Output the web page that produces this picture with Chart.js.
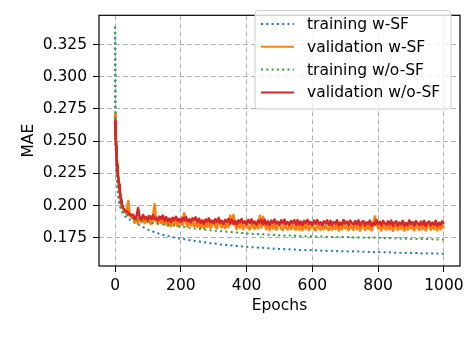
<!DOCTYPE html>
<html>
<head>
<meta charset="utf-8">
<script src="https://cdn.jsdelivr.net/npm/chart.js@4"></script>
<style>
  html, body { margin: 0; padding: 0; background: #fff; }
  #wrap { width: 474px; height: 345px; }
</style>
</head>
<body>
<div id="wrap"><canvas id="myChart" width="474" height="345"></canvas></div>
<script>
/* epochs for the (smooth) training curves */
const trainEpochs = [
  0, 1, 2, 3, 4, 5, 6, 7, 8, 10, 12, 14, 16, 18, 20, 25, 30, 35, 40, 45, 50,
  60, 70, 80, 90, 100, 110, 120, 130, 140, 150, 160, 170, 180, 190, 200,
  210, 220, 230, 240, 250, 260, 270, 280, 290, 300,
  310, 320, 330, 340, 350, 360, 370, 380, 390, 400,
  410, 420, 430, 440, 450, 460, 470, 480, 490, 500,
  510, 520, 530, 540, 550, 560, 570, 580, 590, 600,
  610, 620, 630, 640, 650, 660, 670, 680, 690, 700,
  710, 720, 730, 740, 750, 760, 770, 780, 790, 800,
  810, 820, 830, 840, 850, 860, 870, 880, 890, 900,
  910, 920, 930, 940, 950, 960, 970, 980, 990, 1000,
];

/* epochs for the (noisy) validation curves */
const valEpochs = [
  0, 1, 2, 3, 4, 5, 6, 7, 8, 10, 12, 14, 16, 18, 20, 25, 30, 35, 40, 45, 50,
  55, 60, 65, 70, 75, 80, 85, 90, 95, 100, 105, 110, 115, 120, 125, 130, 135, 140, 145, 150,
  155, 160, 165, 170, 175, 180, 185, 190, 195, 200, 205, 210, 215, 220, 225, 230, 235, 240, 245, 250,
  255, 260, 265, 270, 275, 280, 285, 290, 295, 300, 305, 310, 315, 320, 325, 330, 335, 340, 345, 350,
  355, 360, 365, 370, 375, 380, 385, 390, 395, 400, 405, 410, 415, 420, 425, 430, 435, 440, 445, 450,
  455, 460, 465, 470, 475, 480, 485, 490, 495, 500, 505, 510, 515, 520, 525, 530, 535, 540, 545, 550,
  555, 560, 565, 570, 575, 580, 585, 590, 595, 600, 605, 610, 615, 620, 625, 630, 635, 640, 645, 650,
  655, 660, 665, 670, 675, 680, 685, 690, 695, 700, 705, 710, 715, 720, 725, 730, 735, 740, 745, 750,
  755, 760, 765, 770, 775, 780, 785, 790, 795, 800, 805, 810, 815, 820, 825, 830, 835, 840, 845, 850,
  855, 860, 865, 870, 875, 880, 885, 890, 895, 900, 905, 910, 915, 920, 925, 930, 935, 940, 945, 950,
  955, 960, 965, 970, 975, 980, 985, 990, 995, 1000,
];

const trainingWSF = [
  0.339, 0.262, 0.246, 0.236, 0.229, 0.223, 0.218, 0.2145, 0.2115, 0.2065, 0.203, 0.2005, 0.1985, 0.1968, 0.1955, 0.1932, 0.1916, 0.1905, 0.1897, 0.189, 0.1884,
  0.187, 0.1853, 0.184, 0.1826, 0.1813, 0.1803, 0.1794, 0.1785, 0.1776, 0.1769, 0.1764, 0.1757, 0.1752, 0.1747, 0.1742,
  0.1739, 0.1734, 0.173, 0.1726, 0.1722, 0.1719, 0.1714, 0.1712, 0.1707, 0.1705,
  0.1702, 0.1698, 0.1697, 0.1693, 0.1691, 0.1688, 0.1686, 0.1684, 0.1681, 0.168,
  0.1678, 0.1675, 0.1674, 0.1671, 0.1671, 0.1668, 0.1667, 0.1665, 0.1666, 0.1663,
  0.1662, 0.166, 0.166, 0.1657, 0.1658, 0.1655, 0.1655, 0.1653, 0.1654, 0.1651,
  0.1652, 0.1649, 0.165, 0.1648, 0.1647, 0.1648, 0.1645, 0.1646, 0.1644, 0.1645,
  0.1643, 0.1644, 0.1641, 0.1643, 0.164, 0.1641, 0.1639, 0.164, 0.1637, 0.1639,
  0.1636, 0.1637, 0.1635, 0.1636, 0.1633, 0.1635, 0.1632, 0.1633, 0.1631, 0.1632,
  0.163, 0.1631, 0.1628, 0.163, 0.1627, 0.1629, 0.1626, 0.1627, 0.1624, 0.1626,
];

const trainingWoSF = [
  0.339, 0.265, 0.248, 0.238, 0.231, 0.225, 0.22, 0.216, 0.213, 0.208, 0.204, 0.2015, 0.1995, 0.198, 0.197, 0.195, 0.1937, 0.1927, 0.1919, 0.1912, 0.1906,
  0.1897, 0.1889, 0.1882, 0.1876, 0.187, 0.1866, 0.1862, 0.1858, 0.1855, 0.1852, 0.1849, 0.1846, 0.1843, 0.184, 0.1836,
  0.1833, 0.1829, 0.1826, 0.1822, 0.1819, 0.1817, 0.1813, 0.1811, 0.1807, 0.1805,
  0.1803, 0.18, 0.1799, 0.1796, 0.1794, 0.1792, 0.179, 0.1787, 0.1786, 0.1783,
  0.1782, 0.1779, 0.1779, 0.1776, 0.1776, 0.1773, 0.1773, 0.177, 0.1771, 0.1768,
  0.1768, 0.1766, 0.1767, 0.1764, 0.1765, 0.1762, 0.1763, 0.1761, 0.1762, 0.1759,
  0.176, 0.1758, 0.1759, 0.1757, 0.1758, 0.1755, 0.1757, 0.1754, 0.1756, 0.1753,
  0.1755, 0.1752, 0.1754, 0.1751, 0.1752, 0.175, 0.1751, 0.1749, 0.1751, 0.1748,
  0.1749, 0.1746, 0.1748, 0.1745, 0.1746, 0.1744, 0.1745, 0.1742, 0.1744, 0.1741,
  0.1742, 0.174, 0.1741, 0.1739, 0.174, 0.1737, 0.1739, 0.1736, 0.1737, 0.1735,
];

const validationWSF = [
  0.271, 0.263, 0.256, 0.249, 0.243, 0.238, 0.233, 0.229, 0.226, 0.221, 0.216, 0.211, 0.207, 0.203, 0.2, 0.197, 0.195, 0.1935, 0.2035, 0.192, 0.191,
  0.1905, 0.1866, 0.1893, 0.1858, 0.191, 0.1874, 0.1899, 0.1862, 0.1888, 0.1915, 0.187, 0.1856, 0.19, 0.201, 0.1877, 0.1859, 0.1896, 0.1864, 0.1891, 0.1853,
  0.1885, 0.1843, 0.1872, 0.1838, 0.1889, 0.1851, 0.1878, 0.184, 0.1866, 0.1895, 0.1848, 0.194, 0.187, 0.1836, 0.1881, 0.1845, 0.1873, 0.1839, 0.1868, 0.1834,
  0.1871, 0.1829, 0.1858, 0.1824, 0.1875, 0.1837, 0.1864, 0.1826, 0.1852, 0.188, 0.1834, 0.1822, 0.1906, 0.1861, 0.183, 0.1867, 0.1825, 0.1855, 0.1833, 0.192,
  0.1862, 0.1926, 0.1851, 0.1818, 0.1868, 0.1829, 0.1857, 0.1817, 0.1845, 0.1872, 0.1826, 0.1814, 0.186, 0.1832, 0.182, 0.1866, 0.1823, 0.192, 0.183, 0.1912,
  0.1858, 0.1816, 0.1845, 0.1811, 0.1862, 0.1824, 0.1851, 0.1813, 0.1839, 0.1867, 0.1821, 0.1809, 0.1855, 0.1828, 0.1815, 0.186, 0.1818, 0.1848, 0.1826, 0.1812,
  0.1855, 0.1813, 0.1842, 0.1808, 0.1859, 0.1821, 0.1848, 0.181, 0.1836, 0.1864, 0.1818, 0.1806, 0.1852, 0.1825, 0.1812, 0.1857, 0.1815, 0.1845, 0.1823, 0.1809,
  0.1851, 0.1812, 0.1839, 0.182, 0.1856, 0.1806, 0.1845, 0.1815, 0.1861, 0.1824, 0.1834, 0.1808, 0.185, 0.1827, 0.1811, 0.1875, 0.1817, 0.1848, 0.1805, 0.1838,
  0.1853, 0.181, 0.1841, 0.1818, 0.1858, 0.1807, 0.1844, 0.1915, 0.186, 0.1822, 0.1836, 0.1806, 0.1852, 0.1826, 0.1813, 0.1855, 0.1816, 0.1847, 0.1804, 0.1839,
  0.185, 0.1811, 0.1842, 0.1819, 0.1857, 0.1805, 0.1846, 0.1814, 0.1862, 0.1823, 0.1835, 0.1807, 0.1851, 0.1828, 0.181, 0.1854, 0.1817, 0.1849, 0.1806, 0.184,
  0.1852, 0.1812, 0.1843, 0.1818, 0.1856, 0.1808, 0.1845, 0.1815, 0.185, 0.1826,
];

const validationWoSF = [
  0.266, 0.259, 0.252, 0.246, 0.24, 0.235, 0.231, 0.228, 0.225, 0.221, 0.216, 0.212, 0.208, 0.204, 0.201, 0.198, 0.196, 0.1955, 0.194, 0.193, 0.1925,
  0.1928, 0.1895, 0.1915, 0.198, 0.1902, 0.189, 0.1926, 0.1897, 0.191, 0.1886, 0.1918, 0.1896, 0.1924, 0.1892, 0.1905, 0.1884, 0.1914, 0.1898, 0.1921, 0.1885,
  0.191, 0.1878, 0.1898, 0.1872, 0.1905, 0.1888, 0.1912, 0.1881, 0.1895, 0.1874, 0.1906, 0.1884, 0.1911, 0.1879, 0.1893, 0.1871, 0.1901, 0.1886, 0.1908, 0.1873,
  0.1897, 0.1864, 0.1885, 0.1859, 0.1891, 0.1875, 0.19, 0.1868, 0.1882, 0.1862, 0.1893, 0.1871, 0.1898, 0.1866, 0.188, 0.1858, 0.1888, 0.1873, 0.1895, 0.186,
  0.1891, 0.1858, 0.1879, 0.1853, 0.1885, 0.1869, 0.1894, 0.1862, 0.1876, 0.1856, 0.1887, 0.1865, 0.1892, 0.186, 0.1874, 0.1852, 0.1882, 0.1867, 0.1889, 0.1854,
  0.1888, 0.1855, 0.1876, 0.185, 0.1882, 0.1866, 0.1891, 0.1859, 0.1873, 0.1853, 0.1884, 0.1862, 0.1889, 0.1857, 0.1871, 0.1849, 0.1879, 0.1864, 0.1886, 0.1851,
  0.1886, 0.1853, 0.1874, 0.1848, 0.188, 0.1864, 0.1889, 0.1857, 0.1871, 0.1851, 0.1882, 0.186, 0.1887, 0.1855, 0.1869, 0.1847, 0.1877, 0.1862, 0.1884, 0.1849,
  0.188, 0.1849, 0.1871, 0.1858, 0.1885, 0.1846, 0.1868, 0.1853, 0.1887, 0.186, 0.1875, 0.1848, 0.1882, 0.1866, 0.1851, 0.1879, 0.1856, 0.1884, 0.1845, 0.187,
  0.1878, 0.1847, 0.1869, 0.1856, 0.1883, 0.1844, 0.1866, 0.1851, 0.1885, 0.1858, 0.1873, 0.1846, 0.188, 0.1864, 0.1849, 0.1877, 0.1854, 0.1882, 0.1843, 0.1868,
  0.1876, 0.1845, 0.1867, 0.1854, 0.1881, 0.1842, 0.1864, 0.1849, 0.1883, 0.1856, 0.1871, 0.1844, 0.1878, 0.1862, 0.1847, 0.1875, 0.1852, 0.188, 0.1841, 0.1866,
  0.1875, 0.1846, 0.1868, 0.1853, 0.188, 0.1843, 0.1865, 0.185, 0.1877, 0.1858,
];

/* tick labels */
const xTicks = [0, 200, 400, 600, 800, 1000];
const yTicks = [0.175, 0.2, 0.225, 0.25, 0.275, 0.3, 0.325];

const seriesNames = ['training w-SF', 'validation w-SF', 'training w/o-SF', 'validation w/o-SF'];
const seriesColors = ['#1f77b4', '#ff7f0e', '#2ca02c', '#d62728'];
const seriesDash = [[2, 3.3], [], [2, 3.3], []];
const seriesWidth = [2, 2.6, 2, 2.6];
const seriesValues = [trainingWSF, validationWSF, trainingWoSF, validationWoSF];
const seriesEpochs = [trainEpochs, valEpochs, trainEpochs, valEpochs];

const FONT = 'DejaVu Sans';
const FONT_SIZE = 15.5;

const toPoints = (xs, values) => values.map((v, i) => ({ x: xs[i], y: v }));

/* frame + legend drawn on top of the plot */
const framePlugin = {
  id: 'frameLegend',
  afterDraw(chart) {
    const { ctx, chartArea: a } = chart;
    ctx.save();
    ctx.strokeStyle = '#000';
    ctx.lineWidth = 1.2;
    ctx.setLineDash([]);
    ctx.strokeRect(a.left, a.top, a.right - a.left, a.bottom - a.top);

    // legend box
    const bx = 255, by = 10.5, bw = 196, bh = 98.5, r = 3;
    ctx.beginPath();
    ctx.moveTo(bx + r, by);
    ctx.arcTo(bx + bw, by, bx + bw, by + bh, r);
    ctx.arcTo(bx + bw, by + bh, bx, by + bh, r);
    ctx.arcTo(bx, by + bh, bx, by, r);
    ctx.arcTo(bx, by, bx + bw, by, r);
    ctx.closePath();
    ctx.fillStyle = 'rgba(255,255,255,0.8)';
    ctx.fill();
    ctx.strokeStyle = '#cccccc';
    ctx.lineWidth = 1;
    ctx.stroke();

    ctx.font = FONT_SIZE + 'px "' + FONT + '"';
    ctx.textBaseline = 'middle';
    ctx.textAlign = 'left';
    seriesNames.forEach((name, i) => {
      const y = 24 + i * 22.8;
      ctx.beginPath();
      ctx.strokeStyle = seriesColors[i];
      ctx.lineWidth = 2;
      ctx.setLineDash(seriesDash[i]);
      ctx.moveTo(261, y);
      ctx.lineTo(294, y);
      ctx.stroke();
      ctx.fillStyle = '#000';
      ctx.fillText(name, 307, y + 1);
    });
    ctx.restore();
  },
};

const datasets = seriesNames.map((name, i) => ({
  label: name,
  data: toPoints(seriesEpochs[i], seriesValues[i]),
  borderColor: seriesColors[i],
  borderWidth: seriesWidth[i],
  borderDash: seriesDash[i],
  borderJoinStyle: 'round',
  pointRadius: 0,
  tension: 0,
  fill: false,
  order: 4 - i,
}));

const tickStyle = { color: '#000', font: { family: FONT, size: FONT_SIZE } };

const gridStyle = {
  color: '#b0b0b0',
  lineWidth: 1,
  tickLength: 6,
  tickColor: '#000',
  tickWidth: 1,
  tickBorderDash: [],
};

const config = {
  type: 'line',
  data: { datasets: datasets },
  options: {
    responsive: false,
    animation: false,
    events: [],
    layout: { padding: { left: 0, right: 14, top: 3, bottom: 30 } },
    plugins: { legend: { display: false }, tooltip: { enabled: false } },
    scales: {
      x: {
        type: 'linear',
        min: -49,
        max: 1049,
        afterBuildTicks: (scale) => {
          scale.ticks = xTicks.map((v) => ({ value: v }));
        },
        afterFit: (scale) => {
          scale.height = 49;
        },
        grid: gridStyle,
        border: { display: false, dash: [5, 3] },
        ticks: {
          ...tickStyle,
          padding: 5,
          maxRotation: 0,
          autoSkip: false,
          callback: (v) => String(v),
        },
        title: {
          display: true,
          text: 'Epochs',
          color: '#000',
          font: { family: FONT, size: FONT_SIZE },
          padding: { top: 0, bottom: 0 },
        },
      },
      y: {
        type: 'linear',
        min: 0.153,
        max: 0.3478,
        afterBuildTicks: (scale) => {
          scale.ticks = yTicks.map((v) => ({ value: v }));
        },
        afterFit: (scale) => {
          scale.width = 99;
        },
        grid: gridStyle,
        border: { display: false, dash: [5, 3] },
        ticks: {
          ...tickStyle,
          padding: 6,
          autoSkip: false,
          callback: (v) => v.toFixed(3),
        },
        title: {
          display: true,
          text: 'MAE',
          color: '#000',
          font: { family: FONT, size: FONT_SIZE },
          padding: { top: 20, bottom: 0 },
        },
      },
    },
  },
  plugins: [framePlugin],
};

new Chart(document.querySelector('#myChart'), config);
</script>
</body>
</html>
